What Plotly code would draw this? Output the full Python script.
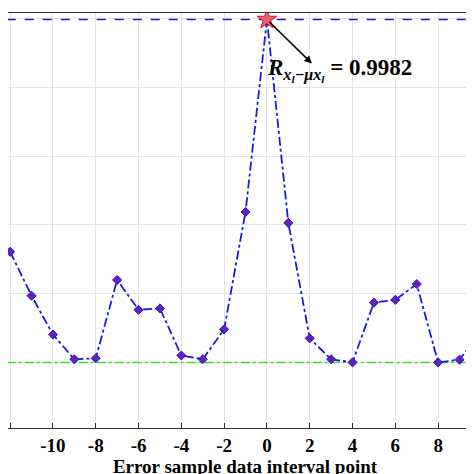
import plotly.graph_objects as go

lags = [-12, -11, -10, -9, -8, -7, -6, -5, -4, -3, -2, -1, 0, 1, 2, 3, 4, 5, 6, 7, 8, 9, 10]
corr = [0.322, 0.194, 0.081, 0.009, 0.012, 0.240, 0.153, 0.157, 0.020, 0.009, 0.096, 0.438,
        0.9982, 0.406, 0.070, 0.009, 0.0, 0.174, 0.182, 0.228, 0.0, 0.008, 0.09]
peak_lag = [0]
peak_val = [0.9982]
x_ticks = [-12, -10, -8, -6, -4, -2, 0, 2, 4, 6, 8, 10]
x_labels = ['<b>-12</b>', '<b>-10</b>', '<b>-8</b>', '<b>-6</b>', '<b>-4</b>', '<b>-2</b>',
            '<b>0</b>', '<b>2</b>', '<b>4</b>', '<b>6</b>', '<b>8</b>', '<b>10</b>']

fig = go.Figure()

# reference lines: max value and zero
fig.add_trace(go.Scatter(x=[-13, 11], y=[peak_val[0], peak_val[0]], mode='lines',
                         line=dict(color='#1a1adf', width=1.5, dash='dash'), showlegend=False))
fig.add_trace(go.Scatter(x=[-13, 11], y=[0, 0], mode='lines',
                         line=dict(color='#33dd33', width=1.5, dash='dashdot'), showlegend=False))

fig.add_trace(go.Scatter(
    x=lags, y=corr, mode='lines+markers',
    line=dict(color='#1a1adf', width=1.8, dash='dashdot'),
    marker=dict(symbol='diamond', size=7, color='#6a1fb0', line=dict(color='#1a1adf', width=1)),
    showlegend=False
))

fig.add_trace(go.Scatter(
    x=peak_lag, y=peak_val, mode='markers',
    marker=dict(symbol='star', size=15, color='#e8606f', line=dict(color='#d02030', width=1)),
    showlegend=False
))

fig.add_annotation(
    x=2.1, y=0.87, ax=0.05, ay=0.995, axref='x', ayref='y', xref='x', yref='y',
    showarrow=True, arrowhead=2, arrowsize=1, arrowwidth=1.5, arrowcolor='black', text=''
)
fig.add_annotation(
    x=3.4, y=0.85, xref='x', yref='y', showarrow=False,
    text='<b><i>R</i><sub><i>x<sub>l</sub>−μx<sub>l</sub></i></sub> = 0.9982</b>',
    font=dict(family='Liberation Serif', size=23, color='black')
)

fig.update_layout(
    width=474, height=474,
    margin=dict(l=0, r=0, t=5, b=54, autoexpand=False),
    plot_bgcolor='white', paper_bgcolor='white',
    font=dict(family='Liberation Serif', color='black'),
    xaxis=dict(
        range=[-12.1, 10.05], tickmode='array', tickvals=x_ticks, ticktext=x_labels,
        showgrid=True, gridcolor='#e4e4e4', zeroline=False,
        showline=True, linecolor='#333', mirror=True,
        ticks='inside', ticklen=5, tickcolor='#333',
        tickfont=dict(size=19, family='Liberation Serif'),
        automargin=False,
        title=dict(text='<b>Error sample data interval point</b>',
                   font=dict(size=19, family='Liberation Serif'), standoff=0),
    ),
    yaxis=dict(
        range=[-0.191, 1.017], dtick=0.2, tick0=0,
        showgrid=True, gridcolor='#e4e4e4', zeroline=False,
        showline=True, linecolor='#333', mirror=True,
        showticklabels=False, automargin=False,
    ),
)

fig.write_html('out.html')
